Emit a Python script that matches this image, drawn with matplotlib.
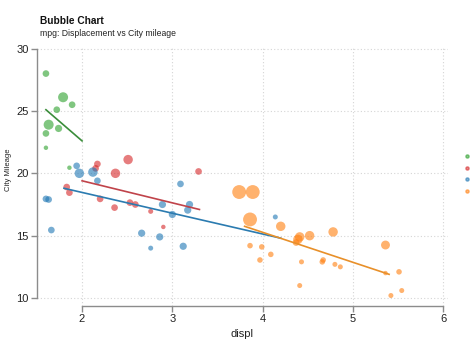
import matplotlib
matplotlib.use("Agg")
import matplotlib.pyplot as plt
from matplotlib.lines import Line2D
import numpy as np

plt.rcParams['font.family'] = ['Liberation Sans', 'DejaVu Sans']

groups = ["honda", "hyundai", "audi", "ford"]
colors = ["#2ca02c", "#d62728", "#1f77b4", "#ff7f0e"]
line_colors = ["#3a8d3a", "#c0434a", "#2b7bb0", "#e8902a"]

# displacement (x), city mileage (y), bubble weight (w)
honda_x = [1.60, 1.79, 1.89, 1.72, 1.63, 1.74, 1.60, 1.60, 1.86]
honda_y = [28.0, 26.1, 25.5, 25.1, 23.9, 23.6, 23.2, 22.05, 20.45]
honda_w = [6, 9, 6, 6, 9, 6.5, 6, 4, 4]

hyundai_x = [2.17, 2.15, 2.37, 2.51, 1.83, 1.86, 2.20, 2.36, 2.53, 2.59, 2.76, 2.90, 3.29]
hyundai_y = [20.75, 20.4, 20.0, 21.1, 18.9, 18.45, 17.95, 17.25, 17.65, 17.5, 16.95, 15.7, 20.15]
hyundai_w = [6, 6, 8.5, 8.5, 6, 6, 6, 6, 6, 6, 4.5, 4, 6]

audi_x = [1.60, 1.63, 1.66, 1.94, 1.97, 2.12, 2.17, 2.66, 2.86, 2.76, 2.89, 3.00, 3.09, 3.12, 3.17, 3.19, 4.14]
audi_y = [17.95, 17.9, 15.45, 20.6, 20.0, 20.1, 19.4, 15.2, 14.9, 14.0, 17.5, 16.7, 19.15, 14.15, 17.05, 17.5, 16.5]
audi_w = [6, 6, 6, 6, 8.5, 8.5, 6, 6.5, 6.5, 4.5, 6.5, 6.5, 6, 6.5, 6.5, 6.5, 4.5]

ford_x = [3.74, 3.89, 3.86, 4.20, 4.41, 4.39, 4.37, 4.52, 4.78, 5.36, 3.86, 3.99, 3.97, 4.09,
          4.43, 4.66, 4.67, 4.80, 4.86, 4.41, 5.51, 5.42, 5.54, 5.36]
ford_y = [18.5, 18.5, 16.3, 15.75, 14.9, 14.7, 14.45, 15.0, 15.3, 14.25, 14.2, 14.1, 13.05, 13.5,
          12.9, 12.9, 13.05, 12.7, 12.5, 11.0, 12.1, 10.2, 10.6, 12.0]
ford_w = [12.5, 12.5, 12.5, 8.5, 8.5, 8.5, 6, 8.5, 8.5, 8, 5, 5, 5, 5,
          4.5, 5, 5, 4.5, 4.5, 4.5, 5, 4.5, 4.5, 4]

# fitted trend lines (start/end displacement and mileage)
fit_x0 = [1.6, 2.0, 1.8, 3.8]
fit_x1 = [2.0, 3.3, 4.2, 5.4]
fit_y0 = [25.1, 19.4, 18.8, 15.75]
fit_y1 = [22.6, 17.1, 14.8, 11.9]

xs = [honda_x, hyundai_x, audi_x, ford_x]
ys = [honda_y, hyundai_y, audi_y, ford_y]
ws = [honda_w, hyundai_w, audi_w, ford_w]

fig = plt.figure(figsize=(4.74, 3.55), dpi=100)
ax = fig.add_axes([36.9 / 474, 1 - 306 / 355, 410.9 / 474, 258 / 355])

for i in range(4):
    w = np.array(ws[i])
    s = (w * 0.8) ** 2
    ax.scatter(xs[i], ys[i], s=s, color=colors[i], alpha=0.6, linewidths=0, zorder=3,
               label=groups[i])
for i in range(4):
    ax.plot([fit_x0[i], fit_x1[i]], [fit_y0[i], fit_y1[i]], color=line_colors[i], lw=1.2, zorder=4)

ax.set_xlim(1.5, 6.05)
ax.set_ylim(9.36, 30.05)
ax.set_xticks([2, 3, 4, 5, 6])
ax.set_yticks([10, 15, 20, 25, 30])
ax.grid(True, color="#d5d5d5", linestyle=(0, (1, 2)), linewidth=0.8, zorder=0)
for sp in ["top", "right"]:
    ax.spines[sp].set_visible(False)
ax.spines["left"].set_bounds(10, 30)
ax.spines["bottom"].set_bounds(2, 6)
for sp in ["left", "bottom"]:
    ax.spines[sp].set_color("#8c8c8c")
    ax.spines[sp].set_linewidth(1.0)
ax.tick_params(axis="both", colors="#8c8c8c", length=4.5, width=1.0, pad=1.5,
               labelsize=8, labelcolor="#222222")

ax.set_xlabel("displ", fontsize=8, color="#222222")
ax.xaxis.set_label_coords(0.5, -(329 - 306) / 258)
ax.set_ylabel("City Mileage", fontsize=5.5, color="#222222")
ax.yaxis.set_label_coords((12 - 36.9) / 410.9, (306 - 170) / 258)

fig.text(40 / 474, 1 - 24 / 355, "Bubble Chart", fontsize=7.3, fontweight="bold", va="baseline", ha="left", color="#111111")
fig.text(40 / 474, 1 - 35.5 / 355, "mpg: Displacement vs City mileage", fontsize=6.2, va="baseline", ha="left", color="#222222")

# legend markers (labels fall outside the visible canvas in the reference)
handles = [Line2D([], [], marker="o", linestyle="none", markersize=2.3, color=c, alpha=0.55) for c in colors]
fig.legend(handles, [""] * 4, loc="upper left", bbox_to_anchor=(460 / 474, 1 - 149 / 355),
           frameon=False, fontsize=6, handletextpad=0.2, labelspacing=0.45, borderpad=0,
           handlelength=0.6)

fig.savefig("out.png", dpi=100)
